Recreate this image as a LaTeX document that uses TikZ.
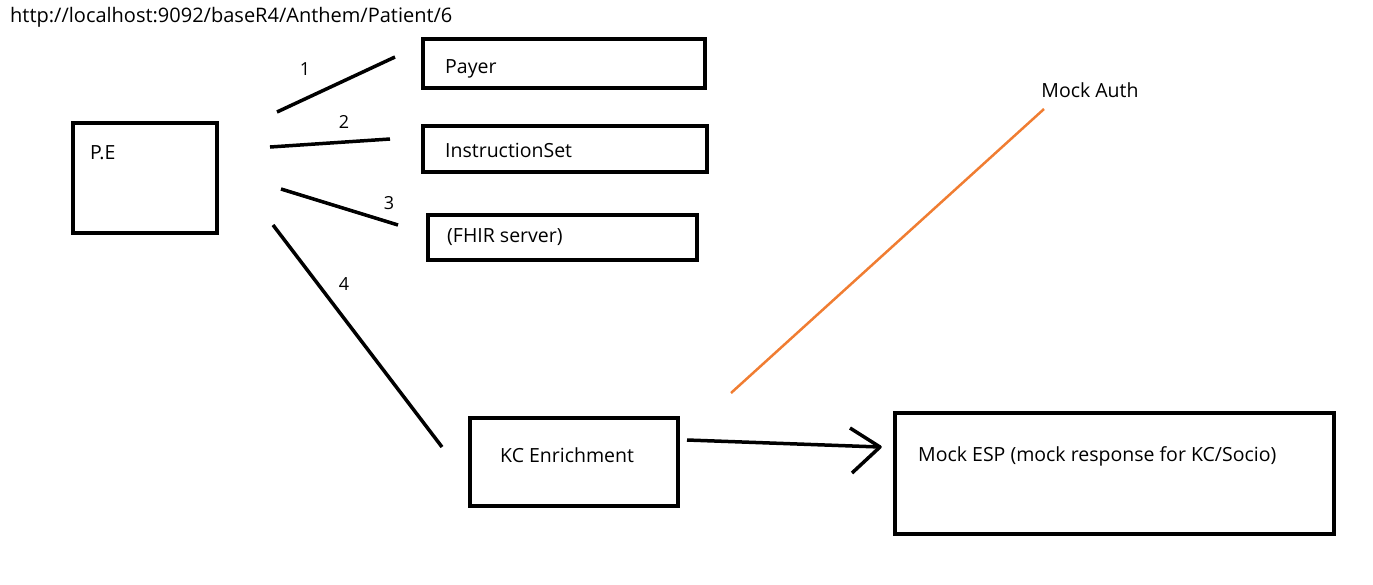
\documentclass[tikz,border=0pt]{standalone}
\usepackage{fontspec}
\setmainfont{Open Sans}
\usetikzlibrary{positioning}
\definecolor{authorange}{RGB}{240,125,50}
\tikzset{
  box/.style={draw,line width=3.5pt},
  lbl/.style={anchor=west,inner sep=0pt,font=\fontsize{19.5}{22}\selectfont},
  num/.style={font=\fontsize{18}{20}\selectfont},
  stroke/.style={line width=3.5pt}
}
\begin{document}
\begin{tikzpicture}[x=1pt,y=-1pt]
\useasboundingbox (0,0) rectangle (1373,584);
% -- header
\node[lbl,font=\fontsize{20}{22}\selectfont] (url) at (10,17) {http://localhost:9092/baseR4/Anthem/Patient/6};
% -- boxes
\draw[box] (73,123) rectangle (217,233);
\node[lbl] (pe) at (90,153) {P.E};
\draw[box] (423,39) rectangle (705,88);
\node[lbl] (payer) at (445,69) {Payer};
\draw[box] (423,126) rectangle (707,172);
\node[lbl] (instr) at (445,150) {InstructionSet};
\draw[box] (428,215) rectangle (697,260);
\node[lbl] (fhir) at (447,237) {(FHIR server)};
\draw[box] (470,418) rectangle (678,506);
\node[lbl] (kc) at (500,455) {KC Enrichment};
\draw[box] (895,413) rectangle (1334,534);
\node[lbl] (esp) at (918,456) {Mock ESP (mock response for KC/Socio)};
\node[lbl,anchor=center] (auth) at (1090,90) {Mock Auth};
% -- strokes
\coordinate (a1) at (277,112); \coordinate (b1) at (395,57);
\coordinate (a2) at (270,147); \coordinate (b2) at (390,139);
\coordinate (a3) at (281,189); \coordinate (b3) at (398,225);
\coordinate (a4) at (273,225); \coordinate (b4) at (442,447);
\draw[stroke] (a1) -- (b1);
\draw[stroke] (a2) -- (b2);
\draw[stroke] (a3) -- (b3);
\draw[stroke] (a4) -- (b4);
\node[num] (n1) at (305,69) {1};
\node[num] (n2) at (344,122) {2};
\node[num] (n3) at (389,203) {3};
\node[num] (n4) at (344,284) {4};
% -- orange line
\coordinate (o1) at (731,393); \coordinate (o2) at (1044,109);
\draw[authorange,line width=2.5pt] (o1) -- (o2);
% -- arrow
\coordinate (r1) at (687,440); \coordinate (r2) at (880,447);
\coordinate (h1) at (850,428); \coordinate (h2) at (852,473);
\draw[stroke] (r1) -- (r2);
\draw[stroke,line join=round] (h1) -- (r2) -- (h2);
\end{tikzpicture}
\end{document}
